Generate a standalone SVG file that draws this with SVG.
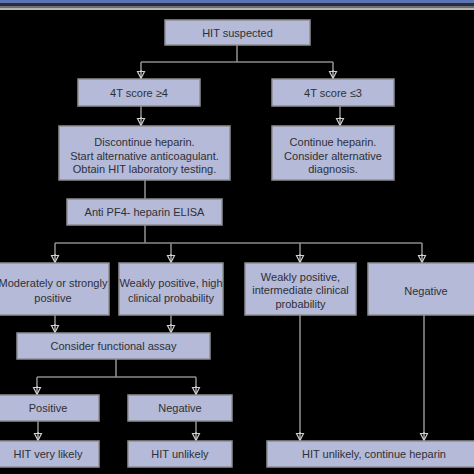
<svg xmlns="http://www.w3.org/2000/svg" width="474" height="474" viewBox="0 0 474 474">
<style>
.box{fill:#b4bad7;stroke:#8f8f93;stroke-width:1.5}
.t{font-family:"Liberation Sans",Arial,sans-serif;font-size:11px;fill:#2e3038;text-anchor:middle}
.c{fill:none;stroke:#8a8a8a;stroke-width:1.6}
</style>
<defs>
<marker id="arr" markerUnits="userSpaceOnUse" markerWidth="10" markerHeight="10" viewBox="0 0 10 10" refX="9" refY="5" orient="auto">
<path d="M2,1.5 L9,5 L2,8.5 Z" fill="#000" stroke="#d0d0d0" stroke-width="1.2"/>
<line x1="0" y1="5" x2="9" y2="5" stroke="#d0d0d0" stroke-width="1.2"/>
</marker>
</defs>
<rect x="0" y="0" width="474" height="474" fill="#000"/>
<rect x="0" y="0" width="474" height="3" fill="#5a75b5"/>
<rect x="0" y="3" width="474" height="3" fill="#2a2c3a"/>
<rect x="0" y="6" width="474" height="2" fill="#6e6e6e"/>
<rect x="0" y="8" width="474" height="2" fill="#b4b4b4"/>

<g id="connectors">
<path class="c" d="M237,45 V62 M141,62 H333"/>
<path class="c" d="M141,62 V78.5" marker-end="url(#arr)"/>
<path class="c" d="M333,62 V78.5" marker-end="url(#arr)"/>
<path class="c" d="M141,106 V125.5" marker-end="url(#arr)"/>
<path class="c" d="M340,106 V125.5" marker-end="url(#arr)"/>
<path class="c" d="M145,180 V199"/>
<path class="c" d="M145,225 V243 M55,243 H422"/>
<path class="c" d="M55,243 V262.5" marker-end="url(#arr)"/>
<path class="c" d="M171,243 V262.5" marker-end="url(#arr)"/>
<path class="c" d="M300,243 V262.5" marker-end="url(#arr)"/>
<path class="c" d="M422,243 V262.5" marker-end="url(#arr)"/>
<path class="c" d="M55,315 V332.5" marker-end="url(#arr)"/>
<path class="c" d="M171,315 V332.5" marker-end="url(#arr)"/>
<path class="c" d="M116,359 V377 M37,377 H196"/>
<path class="c" d="M37,377 V394.5" marker-end="url(#arr)"/>
<path class="c" d="M196,377 V394.5" marker-end="url(#arr)"/>
<path class="c" d="M38,421 V440.5" marker-end="url(#arr)"/>
<path class="c" d="M196,421 V440.5" marker-end="url(#arr)"/>
<path class="c" d="M300,315 V440.5" marker-end="url(#arr)"/>
<path class="c" d="M424,315 V440.5" marker-end="url(#arr)"/>
</g>

<g id="hit-suspected"><rect class="box" x="165" y="20" width="145" height="25"/><text class="t" x="237.5" y="36.5">HIT suspected</text></g>
<g id="score4"><rect class="box" x="78" y="79" width="122" height="27"/><text class="t" x="139" y="96.5">4T score ≥4</text></g>
<g id="score3"><rect class="box" x="272" y="79" width="122" height="27"/><text class="t" x="333" y="96.5">4T score ≤3</text></g>
<g id="discontinue"><rect class="box" x="59" y="126" width="171" height="54"/>
<text class="t" x="144.5" y="146">Discontinue heparin.</text>
<text class="t" x="144.5" y="159.7">Start alternative anticoagulant.</text>
<text class="t" x="144.5" y="173.3">Obtain HIT laboratory testing.</text></g>
<g id="continue"><rect class="box" x="272" y="126" width="122" height="54"/>
<text class="t" x="333" y="146">Continue heparin.</text>
<text class="t" x="333" y="159.7">Consider alternative</text>
<text class="t" x="333" y="173.3">diagnosis.</text></g>
<g id="elisa"><rect class="box" x="67" y="199" width="155" height="26"/><text class="t" x="144.5" y="216">Anti PF4- heparin ELISA</text></g>
<g id="moderately"><rect class="box" x="-2" y="263" width="111" height="52"/>
<text class="t" x="53" y="287.3">Moderately or strongly</text>
<text class="t" x="53" y="301.5">positive</text></g>
<g id="weak-high"><rect class="box" x="119" y="263" width="104" height="52"/>
<text class="t" x="171" y="287.3">Weakly positive, high</text>
<text class="t" x="171" y="301.5">clinical probability</text></g>
<g id="weak-int"><rect class="box" x="245" y="263" width="111" height="52"/>
<text class="t" x="300.5" y="280.5">Weakly positive,</text>
<text class="t" x="300.5" y="294.2">intermediate clinical</text>
<text class="t" x="300.5" y="307.8">probability</text></g>
<g id="negative1"><rect class="box" x="368" y="263" width="108" height="52"/><text class="t" x="426" y="294.5">Negative</text></g>
<g id="functional"><rect class="box" x="17" y="333" width="193" height="26"/><text class="t" x="113.5" y="350">Consider functional assay</text></g>
<g id="positive"><rect class="box" x="-2" y="395" width="101" height="26"/><text class="t" x="48" y="412">Positive</text></g>
<g id="negative2"><rect class="box" x="128" y="395" width="104" height="26"/><text class="t" x="180" y="412">Negative</text></g>
<g id="very-likely"><rect class="box" x="-2" y="441" width="101" height="26"/><text class="t" x="48" y="458">HIT very likely</text></g>
<g id="unlikely"><rect class="box" x="128" y="441" width="104" height="26"/><text class="t" x="180" y="458">HIT unlikely</text></g>
<g id="unlikely-continue"><rect class="box" x="267" y="441" width="209" height="26"/><text class="t" x="374" y="458">HIT unlikely, continue heparin</text></g>
</svg>
